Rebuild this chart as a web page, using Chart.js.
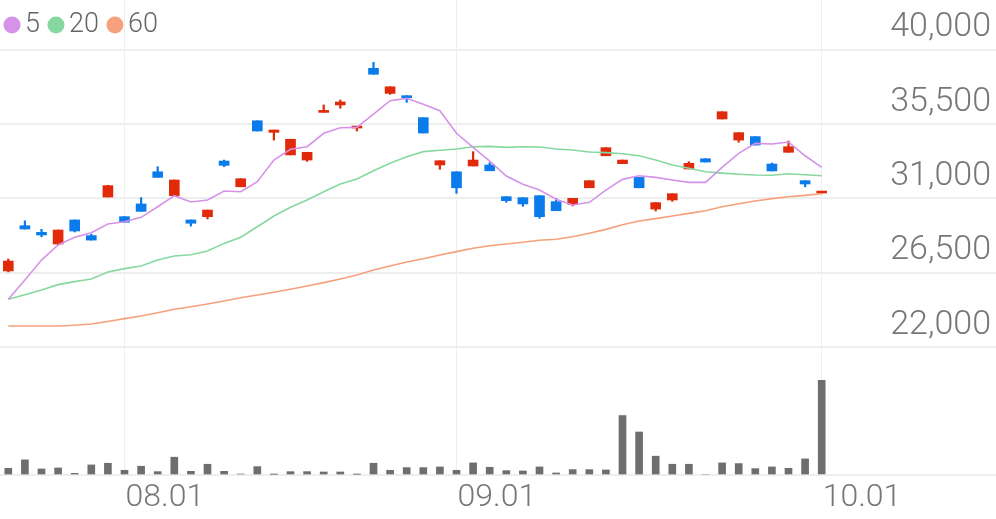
<!DOCTYPE html>
<html>
<head>
<meta charset="utf-8">
<script src="https://cdn.jsdelivr.net/npm/chart.js@4/dist/chart.umd.min.js"></script>
<style>
  html, body { margin: 0; padding: 0; background: #fff; }
  #wrap { width: 996px; height: 519px; }
</style>
</head>
<body>
<div id="wrap"><canvas id="chart"></canvas></div>
<script>
// candle data, one entry per trading day
const opens  = [26610,29350,28950,28240,29700,28750,31090,29900,30670,32620,31170,29700,29900,33270,31710,35710,35010,33640,33330,36220,36670,35270,38890,37370,37230,35900,33030,32620,32970,33030,31110,31050,31170,30810,30650,31650,33590,33110,32280,30360,30910,32790,33410,35820,34540,34750,33090,33800,32080,31330];
const closes = [27210,29150,28790,29090,29030,28480,31780,29560,30220,32280,32120,29500,30300,33010,32200,35090,35150,34590,33800,36340,36850,35370,38530,37770,37110,34970,33290,31650,33330,32680,30870,30670,29900,30260,31010,32080,34080,33330,31650,30750,31290,33130,33210,36260,34990,34240,32670,34140,31880,31440];
const highs  = [27330,29650,29130,29090,29700,28830,31800,29900,31050,32930,32120,29700,30300,33330,32200,35710,35150,34590,33800,36670,36970,35370,39250,37770,37230,35900,33290,32620,33840,33170,31110,31050,31170,31010,31010,32080,34080,33330,32280,30750,31290,33230,33410,36260,34990,34750,33150,34480,32080,31440];
const lows   = [26550,29150,28680,28180,28970,28480,31090,29560,30220,32280,31170,29330,29760,32930,31710,35090,34540,33640,33250,36220,36470,35090,38530,37310,36830,34970,32770,31310,32970,32680,30770,30530,29800,30260,30550,31650,33590,33110,31650,30240,30830,32790,33210,35820,34410,34240,32670,33800,31710,31330];
const volumes = [20,45,18,21,5,30,35,14,26,10,53,11,32,11,3,25,2,10,10,9,9,2,35,14,22,22,24,14,36,23,13,12,24,6,16,16,15,177,128,56,32,32,0,36,34,19,24,20,48,282];

const ma5  = [24890,26060,27270,28180,28650,28930,29450,29590,29860,30500,31170,30790,30910,31450,31410,32020,33330,33980,34140,34950,35290,35310,36120,36930,37070,36710,36320,34950,34100,33270,32360,31860,31510,30950,30610,30770,31510,32160,32380,32280,32120,31980,31980,32890,33740,34340,34300,34420,33590,32890];
const ma20 = [24890,25170,25450,25780,25960,26120,26550,26750,26910,27270,27520,27590,27820,28280,28650,29290,29940,30470,30910,31410,31880,32180,32680,33130,33530,33840,33920,34000,34140,34160,34100,34140,34120,34000,33940,33820,33780,33710,33590,33330,33030,32830,32620,32540,32470,32420,32410,32500,32440,32380];
const ma60 = [23270,23270,23270,23270,23320,23390,23550,23720,23880,24080,24290,24440,24610,24790,24990,25150,25320,25500,25700,25900,26120,26360,26670,26910,27150,27350,27580,27780,27980,28140,28240,28350,28470,28530,28680,28890,29130,29410,29640,29780,29940,30100,30260,30500,30680,30850,30990,31110,31190,31290];

const priceTicks = [22000, 26500, 31000, 35500, 40000];
const dateTicks = [7, 27, 49];
const dateLabels = ['08.01', '09.01', '10.01'];

const UP = '#e02a0a';
const DOWN = '#0a7bea';
const up = closes.map((c, i) => c >= opens[i]);
const candleColors = up.map(u => u ? UP : DOWN);

const idx = opens.map((_, i) => i);
const bodies = idx.map(i => ({x: i, y: [opens[i], closes[i]]}));
const wicks = idx.map(i => ({x: i, y: [lows[i], highs[i]]}));
const vols = idx.map(i => ({x: i, y: volumes[i]}));
const line = arr => arr.map((v, i) => ({x: i, y: v}));

const overlay = {
  id: 'overlay',
  afterDraw(chart) {
    const ctx = chart.ctx;
    const y = chart.scales.y;
    const x = chart.scales.x;
    ctx.save();
    ctx.font = '300 34px Roboto';
    ctx.fillStyle = '#777';
    ctx.textAlign = 'right';
    ctx.textBaseline = 'middle';
    priceTicks.forEach(t => {
      ctx.fillText(t.toLocaleString('en-US'), 991, y.getPixelForValue(t) - 22);
    });
    // date labels start at their grid line
    ctx.font = '300 32px Roboto';
    ctx.textAlign = 'left';
    dateTicks.forEach((t, i) => {
      ctx.fillText(dateLabels[i], x.getPixelForValue(t) + 1, 498);
    });
    // legend
    const items = [['5', '#d592e8'], ['20', '#86d8a0'], ['60', '#f6a07c']];
    let lx = 3;
    ctx.font = '300 27px Roboto';
    items.forEach(([t, c]) => {
      ctx.fillStyle = c;
      ctx.beginPath();
      ctx.arc(lx + 9, 25, 8.5, 0, Math.PI * 2);
      ctx.fill();
      ctx.fillStyle = '#666';
      ctx.fillText(t, lx + 22, 25);
      lx += 22 + ctx.measureText(t).width + 7;
    });
    ctx.restore();
  }
};

new Chart(document.getElementById('chart'), {
  data: {
    datasets: [
      {type: 'line', data: line(ma60), borderColor: '#f6a07c', borderWidth: 1.6, pointRadius: 0, yAxisID: 'y', order: 3},
      {type: 'line', data: line(ma20), borderColor: '#86d8a0', borderWidth: 1.6, pointRadius: 0, yAxisID: 'y', order: 2},
      {type: 'line', data: line(ma5), borderColor: '#d592e8', borderWidth: 1.6, pointRadius: 0, yAxisID: 'y', order: 1},
      {type: 'bar', data: wicks, backgroundColor: candleColors, barThickness: 1.6, grouped: false, yAxisID: 'y', order: 5},
      {type: 'bar', data: bodies, backgroundColor: candleColors, barThickness: 10, minBarLength: 2, grouped: false, yAxisID: 'y', order: 4},
      {type: 'bar', data: vols, backgroundColor: '#6e6e6e', barThickness: 7, grouped: false, yAxisID: 'vol', order: 6}
    ]
  },
  options: {
    responsive: true,
    maintainAspectRatio: false,
    animation: false,
    layout: {padding: 0},
    plugins: {legend: {display: false}, tooltip: {enabled: false}},
    scales: {
      x: {
        type: 'linear', min: -0.5, max: 59.5, offset: false, bounds: 'ticks',
        afterDataLimits: s => { s.min = -0.5; s.max = 59.5; },
        afterBuildTicks: s => { s.ticks = dateTicks.map(v => ({value: v})); },
        ticks: {display: false},
        grid: {color: '#eeeeee', drawTicks: false, offset: false},
        border: {display: false},
        afterFit: s => { s.height = 44; }
      },
      y: {
        position: 'right', stack: 'v', stackWeight: 347,
        min: 22000, max: 43030,
        afterBuildTicks: s => { s.ticks = priceTicks.map(v => ({value: v})); },
        ticks: {display: false},
        grid: {color: '#eeeeee', lineWidth: 2, drawTicks: false},
        border: {display: false},
        afterFit: s => { s.width = 0; }
      },
      vol: {
        position: 'right', stack: 'v', stackWeight: 128,
        min: 0, max: 381,
        afterBuildTicks: s => { s.ticks = [{value: 0}]; },
        ticks: {display: false},
        grid: {color: '#eeeeee', lineWidth: 2, drawTicks: false},
        border: {display: false},
        afterFit: s => { s.width = 0; }
      }
    }
  },
  plugins: [overlay]
});
</script>
</body>
</html>
